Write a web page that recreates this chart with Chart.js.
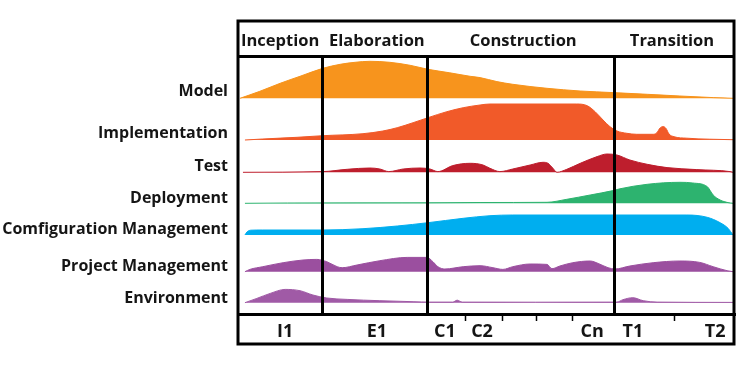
<!DOCTYPE html>
<html>
<head>
<meta charset="utf-8">
<script src="https://cdn.jsdelivr.net/npm/chart.js@4"></script>
<style>
  html, body { margin: 0; padding: 0; background: #fff; }
</style>
</head>
<body>
<canvas id="rupChart" width="740" height="387"></canvas>
<script>
const disciplines = ['Model', 'Implementation', 'Test', 'Deployment', 'Comfiguration Management', 'Project Management', 'Environment'];
const phases = ['Inception', 'Elaboration', 'Construction', 'Transition'];
const iterations = ['I1', 'E1', 'C1', 'C2', 'Cn', 'T1', 'T2'];

// where things sit along the project timeline (0 - 100)
const phaseMid = [8.5, 28, 57.5, 87.5];
const phaseEnds = [17.1, 38.3, 76.0];
const iterationMid = [9.5, 28.0, 41.7, 49.2, 71.4, 79.6, 96.2];
const iterationEnds = [45.8, 53.4, 60.1, 67.5, 88.1];

// effort curves as [time, effort]
const model = [[0.4,0],[4.4,7],[8.5,15],[12.5,22],[17.1,30],[20.6,34],[23.6,36],[26.6,37],[30.6,36],[34.7,33],[38.3,29],[42.7,25.5],[46.8,22],[48.8,20.7],[52.2,16.7],[55.4,14],[62.3,10],[69,7.3],[75.6,5.7],[82.5,4],[89.1,2.3],[95.8,0.7],[99.8,0]];
const implementation = [[1.4,0],[5,1],[11.9,2.7],[17.1,4.3],[25.2,6.3],[29.2,9],[32.1,12.3],[35.3,17.3],[38.3,22.3],[42.1,28.3],[45.4,32.3],[48.8,35],[50.8,36],[68.3,36],[70.4,34.3],[72,28.3],[73.6,20],[75,13.3],[76.4,9],[78.4,6.7],[80.4,5.7],[83.7,5.7],[84.4,7],[85.1,12],[85.7,13.5],[86.3,11.5],[86.9,6],[87.9,3.3],[90.5,1.8],[95,0.8],[99.8,0.3]];
const test = [[1,0],[17.1,0.7],[22,3],[26.6,4.3],[28.6,3.3],[30.4,0.7],[33.3,3.3],[36.7,4.3],[38.7,3.3],[40.3,0.7],[43.3,6.7],[46.8,9],[49.4,7.3],[50.8,4],[52.8,0.7],[55.4,3.3],[58.9,7.3],[61.5,10],[62.5,9],[63.5,4],[64.3,0],[66.3,3],[69,9],[72.4,15.7],[74.4,18.3],[76.4,17.3],[79,12.3],[82.5,8],[86.5,4.7],[92.5,2.7],[99.2,0.7],[99.8,0]];
const deployment = [[1.4,0],[10,0.3],[38,0.5],[48.8,0.8],[62.3,1],[66.3,4],[71,8.3],[75.6,12.7],[77,14.5],[82.5,19],[89.1,21],[91.7,20.3],[94.6,16.7],[95.8,8.3],[97.2,3.3],[98.8,0.7],[99.8,0]];
const configuration = [[1.4,0],[1.8,3],[2.6,4.8],[5,5],[17.1,5],[25.2,6.3],[32.1,9],[38.3,12.3],[45.4,16.7],[50.8,19.3],[55.4,20],[90.5,20],[94.6,17.7],[97.2,12.3],[98.8,6.7],[99.8,0]];
const projectMgmt = [[1.4,0],[2.4,2.3],[5,5],[9.1,9],[13.1,11.7],[15.9,12.3],[17.9,10],[20,5],[21,4],[24,6.7],[28.6,11],[34.1,14.3],[38.1,14.3],[39.3,10],[40.3,5],[41.7,2.7],[45.4,5],[48.8,6],[51.4,4],[53.4,2.3],[55.4,5],[58.9,7.7],[62.3,7.3],[63.3,3],[64.9,5.7],[67.5,9],[71,10.7],[72.6,8.3],[74.6,4],[76,2.7],[79,5.7],[83.7,9],[89.1,10.7],[93.1,9.3],[95.8,5],[98.6,1],[99.8,0]];
const environment = [[1.4,0],[3.8,4.3],[6.5,9.3],[9.5,13.3],[12.5,12],[15.1,7.7],[17.9,4.7],[22,3.3],[28.6,2],[35.3,1],[38.7,0.6],[43.3,0.6],[44.2,2.5],[45.2,0.6],[60,0.5],[76.4,0.6],[77.6,3],[79.6,5],[81.7,2],[84.5,0.6],[99.8,0.3]];

const curves = [model, implementation, test, deployment, configuration, projectMgmt, environment];
const colors = ['#F7941D', '#F15A29', '#BE1E2D', '#2DB36F', '#00AEEF', '#9B4F9F', '#A05AA6'];

// row layout on the y scale (0 = bottom of plot)
const rowBase = [215.7, 174, 141.7, 110.7, 79, 42.3, 11.3];
const rowLabelAt = [222.5, 180.7, 147.5, 115.7, 84.2, 47.5, 15.7];

const headerHeight = 35.5;
const footerHeight = 30;

// bottom axis ticks: phase lines, iteration marks and iteration labels
const bottomTicks = [
  ...phaseEnds.map(v => ({ value: v, kind: 'phase', label: '' })),
  ...iterationEnds.map(v => ({ value: v, kind: 'mark', label: '' })),
  ...iterationMid.map((v, i) => ({ value: v, kind: 'label', label: iterations[i] }))
].sort((a, b) => a.value - b.value);

const textColor = '#151515';
const fontFamily = "'Open Sans', sans-serif";

const datasets = curves.map((pts, i) => ({
  label: disciplines[i],
  data: pts.map(([x, h]) => ({ x: x, y: rowBase[i] + h })),
  borderColor: colors[i],
  backgroundColor: colors[i],
  borderWidth: 1,
  pointRadius: 0,
  cubicInterpolationMode: 'monotone',
  fill: { value: rowBase[i] }
}));

// outer box round the whole chart
const framePlugin = {
  id: 'frame',
  afterDraw(chart) {
    const { ctx, chartArea } = chart;
    const top = chartArea.top - headerHeight;
    const bottom = chartArea.bottom + footerHeight;
    ctx.save();
    ctx.strokeStyle = '#000';
    ctx.lineWidth = 3;
    ctx.strokeRect(chartArea.left, top, chartArea.right - chartArea.left, bottom - top);
    ctx.restore();
  }
};

new Chart(document.getElementById('rupChart'), {
  type: 'line',
  data: { datasets: datasets },
  plugins: [framePlugin],
  options: {
    responsive: false,
    animation: false,
    layout: { padding: { left: 0, right: 6, top: 21, bottom: 43 } },
    plugins: { legend: { display: false }, tooltip: { enabled: false } },
    scales: {
      x: {
        type: 'linear',
        position: 'bottom',
        min: 0,
        max: 100,
        afterBuildTicks: s => { s.ticks = bottomTicks.map(t => ({ value: t.value })); },
        afterFit: s => { s.height = footerHeight; },
        ticks: {
          autoSkip: false,
          maxRotation: 0,
          padding: 0,
          color: textColor,
          font: { family: fontFamily, size: 18, weight: 'bold' },
          callback: (v, i) => bottomTicks[i].label
        },
        grid: {
          z: 1,
          lineWidth: 3,
          color: c => bottomTicks[c.index] && bottomTicks[c.index].kind === 'phase' ? '#000' : 'rgba(0,0,0,0)',
          tickColor: c => bottomTicks[c.index] && bottomTicks[c.index].kind === 'mark' ? '#000' : 'rgba(0,0,0,0)',
          tickLength: 7,
          tickWidth: 1.5
        },
        border: { color: '#000', width: 3, z: 1 }
      },
      xTop: {
        type: 'linear',
        axis: 'x',
        position: 'top',
        min: 0,
        max: 100,
        afterBuildTicks: s => { s.ticks = phaseMid.map(v => ({ value: v })); },
        afterFit: s => { s.height = headerHeight; },
        ticks: {
          autoSkip: false,
          maxRotation: 0,
          padding: 5,
          color: textColor,
          font: { family: fontFamily, size: 16.5, weight: 'bold' },
          callback: (v, i) => phases[i]
        },
        grid: { drawOnChartArea: false, drawTicks: false },
        border: { color: '#000', width: 3 }
      },
      y: {
        type: 'linear',
        min: 0,
        max: 257.5,
        afterBuildTicks: s => { s.ticks = rowLabelAt.map(v => ({ value: v })); },
        afterFit: s => { s.width = 238; },
        ticks: {
          autoSkip: false,
          padding: 10,
          color: textColor,
          font: { family: fontFamily, size: 16, weight: 'bold' },
          callback: (v, i) => disciplines[i]
        },
        grid: { display: false, drawTicks: false },
        border: { display: false }
      }
    }
  }
});
</script>
</body>
</html>
